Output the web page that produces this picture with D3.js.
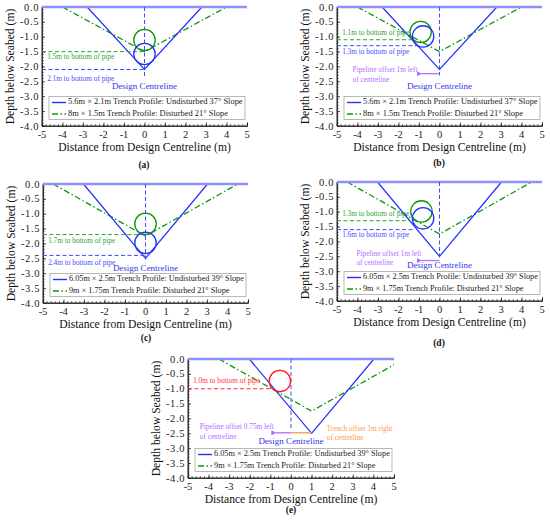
<!DOCTYPE html>
<html><head><meta charset="utf-8">
<script src="https://cdn.jsdelivr.net/npm/d3@7"></script>
<style>body{margin:0;background:#fff}svg{display:block;font-family:"Liberation Serif","Times New Roman",serif}</style>
</head><body><svg id="c" width="550" height="523"></svg>
<script>
// ---------- data ----------
const panelLabels = ["(a)","(b)","(c)","(d)","(e)"];
const undisturbedWidth = [5.6,5.6,6.05,6.05,6.05];
const undisturbedDepth = [2.1,2.1,2.5,2.5,2.5];
const disturbedWidth = [8,8,9,9,9];
const disturbedDepth = [1.5,1.5,1.75,1.75,1.75];
const trenchOffset = [0,0,0,0,1];
const undisturbedLegend = [
  "5.6m × 2.1m Trench Profile: Undisturbed 37° Slope",
  "5.6m × 2.1m Trench Profile: Undisturbed 37° Slope",
  "6.05m × 2.5m Trench Profile: Undisturbed 39° Slope",
  "6.05m × 2.5m Trench Profile: Undisturbed 39° Slope",
  "6.05m × 2.5m Trench Profile: Undisturbed 39° Slope"];
const disturbedLegend = [
  "8m × 1.5m Trench Profile: Disturbed 21° Slope",
  "8m × 1.5m Trench Profile: Disturbed 21° Slope",
  "9m × 1.75m Trench Profile: Disturbed 21° Slope",
  "9m × 1.75m Trench Profile: Disturbed 21° Slope",
  "9m × 1.75m Trench Profile: Disturbed 21° Slope"];
const xTicks = [-5,-4,-3,-2,-1,0,1,2,3,4,5];
const yTicks = [0,-0.5,-1,-1.5,-2,-2.5,-3,-3.5,-4];

// pipes (circle centre position, depth)
const pipePanel = [0,0,1,1,2,2,3,3,4];
const pipeX = [0,0,-0.92,-0.8,0,0,-0.88,-0.8,-0.54];
const pipeDepth = [-1.11,-1.58,-0.84,-0.99,-1.34,-1.98,-0.99,-1.22,-0.74];
const pipeKind = ["g","b","g","b","g","b","g","b","r"];
const pipeRadius = 0.36;

// bottom-of-pipe annotations
const markDepth = [-1.5,-2.1,-1.1,-1.3,-1.7,-2.4,-1.3,-1.6,-1.0];
const markEndX = [0,0,-1.3,-1.1,0,0,-1.45,-1.2,-0.85];
const markText = ["1.5m to bottom of pipe","2.1m to bottom of pipe",
  "1.1m to bottom of pipe","1.3m to bottom of pipe",
  "1.7m to bottom of pipe","2.4m to bottom of pipe",
  "1.3m to bottom of pipe","1.6m to bottom of pipe",
  "1.0m to bottom of pipe"];
const markTextDepth = [-1.7,-2.42,-0.89,-1.54,-1.94,-2.67,-1.09,-1.8,-0.76];

const centrelineBottom = [-2.36,-2.3,-2.63,-2.56,-2.39];
const centrelineLabelDepth = [-2.7,-2.69,-2.84,-2.81,-2.79];

// offsets
const offsetPanel = [1,3,4];
const pipeOffsetArrow = [-1,-1,-0.85];
const offsetArrowDepth = [-2.24,-2.64,-2.48];
const offsetTextX = [-4.24,-4.05,-4.43];
const offsetTextDepth = [[-2.14,-2.45],[-2.42,-2.74],[-2.28,-2.62]];
const offsetText = [["Pipeline offset 1m left","of centreline"],
  ["Pipeline offset 1m left","of centreline"],
  ["Pipeline offset 0.75m left","of centreline"]];
const trenchShiftPanel = 4;
const trenchShiftText = ["Trench offset 1m right","of centreline"];
const trenchShiftTextX = 1.74;
const trenchShiftTextDepth = [-2.36,-2.67];

// ---------- layout ----------
const frames = [
  {x0:42,x1:247,y0:7,y1:126,lab:[144,168]},
  {x0:337,x1:542,y0:7,y1:126,lab:[439,166]},
  {x0:43,x1:248,y0:184,y1:303,lab:[146,341]},
  {x0:337,x1:542,y0:182,y1:301,lab:[439,346]},
  {x0:188,x1:394,y0:359,y1:478,lab:[291,513]}];

const C = {
  trench:"#1f2fff", dist:"#0f960f", seabed:"#8f8fff",
  bDash:"#3a4cff", gDash:"#2aa82a", bText:"#4a4aff", gText:"#2f9f2f",
  purple:"#b56cff", red:"#ff2020", orange:"#ff9a40", centre:"#3535e8"
};
const kindColor = {g:"#129212", b:"#2233ff", r:"#ff1a1a"};
const dashColor = pipeKind.map(k=>k==="g"?C.gDash:k==="b"?C.bDash:"#ff3030");
const textColor = pipeKind.map(k=>k==="g"?C.gText:k==="b"?C.bText:"#ff3030");

const svg = d3.select("#c");
const defs = svg.append("defs");
function marker(id,col){
  defs.append("marker").attr("id",id).attr("viewBox","0 0 10 10").attr("refX",1).attr("refY",5)
    .attr("markerWidth",4).attr("markerHeight",4).attr("orient","auto-start-reverse")
    .append("path").attr("d","M10,0L0,5L10,10z").attr("fill",col);
}
marker("ap",C.purple);

const annoFont = 7.3, legFont = 9.3, tickFont = 10.5, titleFont = 11.6;

frames.forEach((f,i)=>{
  const x = d3.scaleLinear().domain([-5,5]).range([f.x0,f.x1]);
  const y = d3.scaleLinear().domain([0,-4]).range([f.y0,f.y1]);
  const g = svg.append("g");
  const clipId = "clip"+i;
  defs.append("clipPath").attr("id",clipId).append("rect")
    .attr("x",f.x0).attr("y",f.y0-3).attr("width",f.x1-f.x0).attr("height",f.y1-f.y0+3);
  const line = d3.line().x(d=>x(d[0])).y(d=>y(d[1]));

  // axes
  const yAxis = d3.axisRight(y).tickValues(yTicks).tickSize(3).tickFormat(()=>"");
  g.append("g").attr("transform",`translate(${f.x0},0)`).call(yAxis)
    .call(s=>s.selectAll("path,line").attr("stroke","#222").attr("stroke-width",0.8));
  const yMinor = d3.range(0,-4.01,-0.1).map(v=>+v.toFixed(2));
  g.append("g").selectAll("line").data(yMinor).join("line")
    .attr("x1",f.x0).attr("x2",f.x0+1.8).attr("y1",d=>y(d)).attr("y2",d=>y(d))
    .attr("stroke","#222").attr("stroke-width",0.6);
  const xAxis = d3.axisTop(x).tickValues(xTicks).tickSize(3.5).tickFormat(()=>"");
  g.append("g").attr("transform",`translate(0,${f.y1})`).call(xAxis)
    .call(s=>s.selectAll("path,line").attr("stroke","#222").attr("stroke-width",0.8));
  const xMinor = d3.range(-5,5.01,0.2).map(v=>+v.toFixed(2));
  g.append("g").selectAll("line").data(xMinor).join("line")
    .attr("x1",d=>x(d)).attr("x2",d=>x(d)).attr("y1",f.y1).attr("y2",f.y1-2)
    .attr("stroke","#222").attr("stroke-width",0.6);
  g.append("line").attr("x1",f.x0).attr("x2",f.x0).attr("y1",f.y0).attr("y2",f.y1).attr("stroke","#222").attr("stroke-width",1);
  g.append("line").attr("x1",f.x0).attr("x2",f.x1).attr("y1",f.y1).attr("y2",f.y1).attr("stroke","#222").attr("stroke-width",1);

  // tick labels
  g.append("g").selectAll("text").data(yTicks).join("text")
    .attr("x",f.x0-3).attr("y",d=>y(d)+3.6).attr("text-anchor","end").attr("letter-spacing",0.6)
    .attr("font-size",tickFont).attr("fill","#222").text(d=>(d<0?"-":"")+Math.abs(d).toFixed(1));
  g.append("g").selectAll("text").data(xTicks).join("text")
    .attr("x",d=>x(d)).attr("y",f.y1+12).attr("text-anchor","middle")
    .attr("font-size",tickFont).attr("fill","#222").text(d=>(d<0?"-":"")+Math.abs(d));

  // axis titles
  g.append("text").attr("transform",`translate(${f.x0-31},${(f.y0+f.y1)/2}) rotate(-90)`)
    .attr("text-anchor","middle").attr("dominant-baseline","middle").attr("font-size",titleFont).attr("fill","#111")
    .text("Depth below Seabed (m)");
  g.append("text").attr("x",(f.x0+f.x1)/2).attr("y",f.y1+25).attr("text-anchor","middle")
    .attr("font-size",titleFont).attr("fill","#111").text("Distance from Design Centreline (m)");
  g.append("text").attr("x",f.lab[0]).attr("y",f.lab[1]).attr("text-anchor","middle")
    .attr("font-size",9.5).attr("font-weight","bold").attr("fill","#111").text(panelLabels[i]);

  const pg = g.append("g").attr("clip-path",`url(#${clipId})`);
  const off = trenchOffset[i];
  const dw = disturbedWidth[i]/2, dd = disturbedDepth[i];
  pg.append("path").datum([[off-dw,0],[off,-dd],[off+dw,0]]).attr("d",line)
    .attr("fill","none").attr("stroke",C.dist).attr("stroke-width",1.3).attr("stroke-dasharray","6,2.5,1.5,2.5");
  const uw = undisturbedWidth[i]/2, ud = undisturbedDepth[i];
  pg.append("path").datum([[off-uw,0],[off,-ud],[off+uw,0]]).attr("d",line)
    .attr("fill","none").attr("stroke",C.trench).attr("stroke-width",1.2);
  pg.append("path").datum([[-5,0],[5,0]]).attr("d",line).attr("stroke",C.seabed).attr("stroke-width",2.6);

  // centreline
  g.append("path").datum([[0,0],[0,centrelineBottom[i]]]).attr("d",line)
    .attr("stroke",C.bDash).attr("stroke-width",1).attr("stroke-dasharray","4,2.5");
  g.append("text").attr("x",x(0)).attr("y",y(centrelineLabelDepth[i])).attr("dominant-baseline","middle")
    .attr("text-anchor","middle").attr("font-size",9).attr("fill",C.centre).text("Design Centreline");

  // pipes and bottom marks
  pipePanel.forEach((p,k)=>{
    if(p!==i) return;
    g.append("path").datum([[-5,markDepth[k]],[markEndX[k],markDepth[k]]]).attr("d",line)
      .attr("stroke",dashColor[k]).attr("stroke-width",1).attr("stroke-dasharray","4,2.5");
    g.append("text").attr("x",x(-4.75)).attr("y",y(markTextDepth[k])).attr("dominant-baseline","middle")
      .attr("font-size",annoFont).attr("fill",textColor[k]).text(markText[k]);
    g.append("circle").attr("cx",x(pipeX[k])).attr("cy",y(pipeDepth[k]))
      .attr("r",y(-pipeRadius)-y(0)).attr("fill","none").attr("stroke",kindColor[pipeKind[k]]).attr("stroke-width",1.3);
  });

  // offset annotations
  const oi = offsetPanel.indexOf(i);
  if(oi>=0){
    g.append("path").datum([[0,offsetArrowDepth[oi]],[pipeOffsetArrow[oi]+0.12,offsetArrowDepth[oi]]]).attr("d",line)
      .attr("stroke",C.purple).attr("stroke-width",1.3).attr("marker-end","url(#ap)");
    offsetText[oi].forEach((t,j)=>{
      g.append("text").attr("x",x(offsetTextX[oi])).attr("y",y(offsetTextDepth[oi][j])).attr("dominant-baseline","middle")
        .attr("font-size",annoFont).attr("fill",C.purple).text(t);
    });
  }
  if(i===trenchShiftPanel){
    g.append("path").datum([[0,offsetArrowDepth[oi]],[trenchOffset[i],offsetArrowDepth[oi]]]).attr("d",line)
      .attr("stroke",C.orange).attr("stroke-width",1.3);
    trenchShiftText.forEach((t,j)=>{
      g.append("text").attr("x",x(trenchShiftTextX)).attr("y",y(trenchShiftTextDepth[j])).attr("dominant-baseline","middle")
        .attr("font-size",annoFont).attr("fill",C.orange).text(t);
    });
  }

  // legend
  const lx0=f.x0+7, lx1=f.x1-2, ly0=f.y0+89.5, ly1=f.y0+112.5;
  const lg = g.append("g");
  lg.append("rect").attr("x",lx0).attr("y",ly0).attr("width",lx1-lx0).attr("height",ly1-ly0)
    .attr("fill","#fff").attr("stroke","#999").attr("stroke-width",0.7);
  const rows = [
    {t:undisturbedLegend[i],c:C.trench,da:null},
    {t:disturbedLegend[i],c:C.dist,da:"6,2.5,1.5,2.5"}];
  const texts = [];
  rows.forEach((r,j)=>{
    const yy = ly0+6+j*11.5;
    lg.append("line").attr("x1",lx0+3).attr("x2",lx0+17).attr("y1",yy).attr("y2",yy)
      .attr("stroke",r.c).attr("stroke-width",1.4).attr("stroke-dasharray",r.da);
    texts.push(lg.append("text").attr("x",lx0+19).attr("y",yy).attr("dominant-baseline","middle")
      .attr("font-size",legFont).attr("fill","#222").text(r.t));
  });
  const avail = lx1 - (lx0+19) - 2;
  const w = texts[0].node().getComputedTextLength();
  if (w > avail) texts.forEach(t=>t.attr("font-size", legFont*avail/w));
});
</script></body></html>
